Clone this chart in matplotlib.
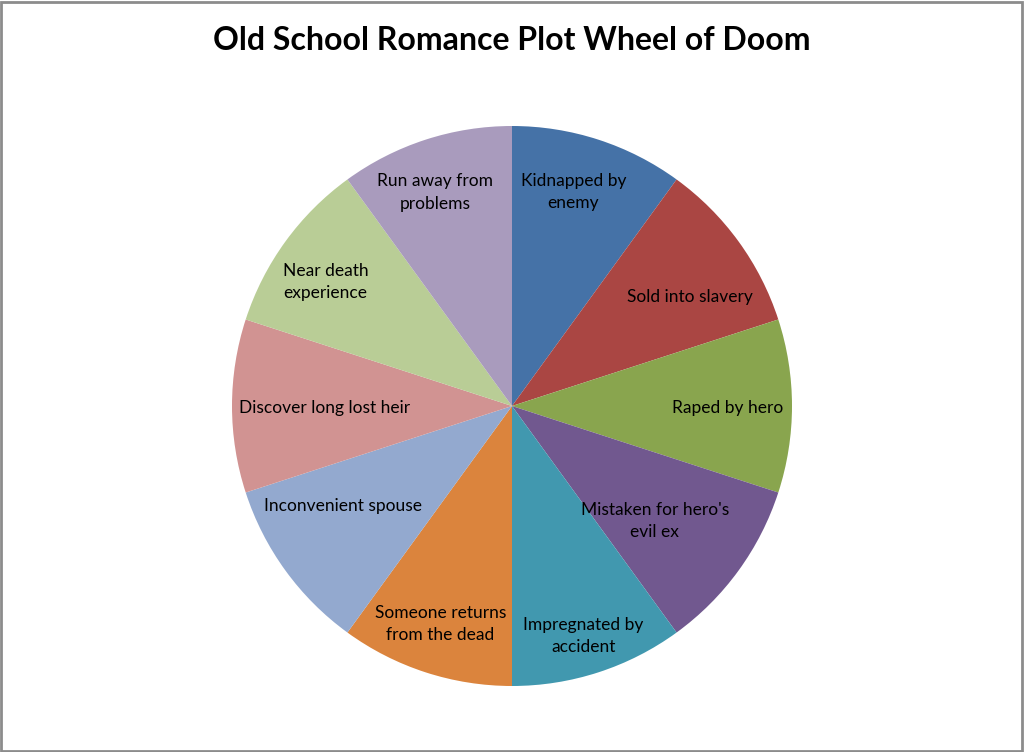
import matplotlib
matplotlib.use("Agg")
import matplotlib.pyplot as plt
import numpy as np

title = "Old School Romance Plot Wheel of Doom"
categories = [
    "Kidnapped by\nenemy",
    "Sold into slavery",
    "Raped by hero",
    "Mistaken for hero's\nevil ex",
    "Impregnated by\naccident",
    "Someone returns\nfrom the dead",
    "Inconvenient spouse",
    "Discover long lost heir",
    "Near death\nexperience",
    "Run away from\nproblems",
]
values = [1, 1, 1, 1, 1, 1, 1, 1, 1, 1]
colors = ["#4572A7", "#AA4643", "#89A54E", "#71588F", "#4198AF",
          "#DB843D", "#93A9CF", "#D19392", "#B9CD96", "#A99BBD"]
# label placement (radius fraction, angle shift in degrees) mimicking Excel best fit
label_place = [(0.795, 2.0), (0.745, -4.5), (0.77, -0.5), (0.655, -2.8), (0.86, -0.8),
               (0.82, -0.2), (0.70, -5.4), (0.67, 0.6), (0.80, 2.4), (0.81, 1.9)]

plt.rcParams['font.family'] = ['Lato', 'DejaVu Sans']

fig = plt.figure(figsize=(10.24, 7.52), dpi=100)
fig.patch.set_facecolor("white")
W, H = 1024, 752
cx, cy, r = 512, 406, 280
ax = fig.add_axes([(cx - r) / W, (H - cy - r) / H, 2 * r / W, 2 * r / H])
wedges, texts = ax.pie(values, colors=colors, startangle=90, counterclock=False,
                       labels=categories, labeldistance=0.77,
                       textprops=dict(fontsize=12.5, ha='center', va='center',
                                      color='black', linespacing=1.5),
                       wedgeprops=dict(linewidth=0))
n = len(values)
for i, t in enumerate(texts):
    rad, shift = label_place[i]
    ang = np.deg2rad(90 - 360 / n * (i + 0.5) + shift)
    t.set_position((rad * np.cos(ang), rad * np.sin(ang)))
    t.set_ha('center')
ax.set_xlim(-1, 1)
ax.set_ylim(-1, 1)
ax.set_aspect('equal')
ax.axis('off')

fig.text(0.5, 1 - 40 / H, title, ha='center', va='center', fontsize=23,
         fontweight='bold', color='black')

border = plt.Rectangle((0.001, 0.001), 0.997, 0.996, transform=fig.transFigure,
                       fill=False, edgecolor='#8c8c8c', linewidth=2)
fig.add_artist(border)

fig.savefig("out.png", dpi=100, facecolor="white")
